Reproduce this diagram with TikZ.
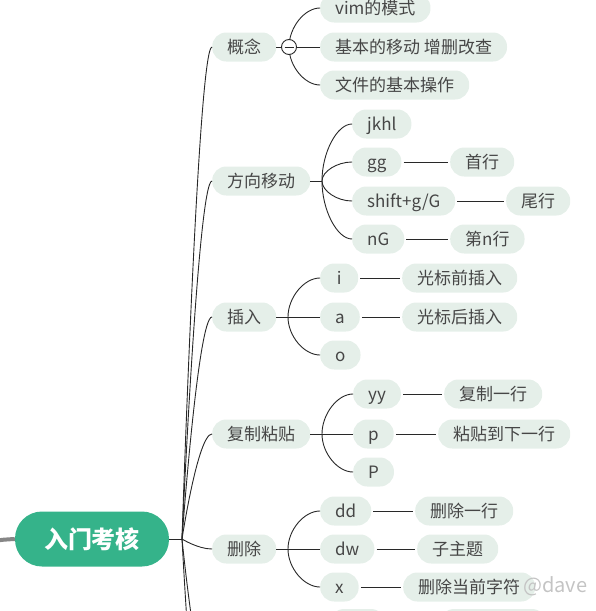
\documentclass[tikz,border=0pt]{standalone}
\usepackage{fontspec}
\setmainfont{Noto Sans CJK SC}
\usetikzlibrary{calc}
\definecolor{topic}{RGB}{229,239,233}
\definecolor{ink}{RGB}{70,70,70}
\definecolor{wirec}{RGB}{40,40,40}
\definecolor{rootgreen}{RGB}{53,179,138}
\definecolor{wmark}{RGB}{196,196,196}
\begin{document}
\begin{tikzpicture}
  [x=1pt,y=-1pt,every node/.style={anchor=west,fill=topic,text=ink,rounded corners=14pt,
   minimum height=29pt,minimum width=38pt,inner xsep=15pt,inner ysep=0pt,
   text height=13pt,text depth=0pt,font=\fontsize{17}{17}\selectfont},
   wire/.style={draw=wirec,line width=0.9pt},
   stub/.style={wire,shorten <=2pt,shorten >=2pt}]
  \useasboundingbox (0,0) rectangle (596,611);
  \clip (0,0) rectangle (596,611);
  \node (root) [anchor=center,fill=rootgreen,text=white,rounded corners=27pt,minimum height=55pt,
    inner xsep=29pt,text height=19pt,font=\fontsize{24}{24}\selectfont\bfseries] at (92,539) {入门考核};
  \node (gainian) at (212,47) {概念};
  \node (fangx) at (212,181) {方向移动};
  \node (charu) at (212,317) {插入};
  \node (fuzhi) at (212,434) {复制粘贴};
  \node (shanchu) at (212,549) {删除};
  % second level
  \node (vim) at (320,8) {vim的模式};
  \node (yidong) at (320,47) {基本的移动 增删改查};
  \node (wenjian) at (320,85) {文件的基本操作};
  \node (jkhl) at (352,124) {jkhl};
  \node (gg) at (352,162) {gg};
  \node (sg) at (352,201) {shift+g/G};
  \node (ng) at (352,239) {nG};
  \node (i) at (320,278) {i};
  \node (a) at (320,317) {a};
  \node (o) at (320,355) {o};
  \node (yy) at (353,394) {yy};
  \node (p) at (353,434) {p};
  \node (P) at (353,472) {P};
  \node (dd) at (320,511) {dd};
  \node (dw) at (320,549) {dw};
  \node (x) at (320,587) {x};
  % third level
  \node (shouh) at (450,162) {首行};
  \node (weih) at (506,201) {尾行};
  \node (dinh) at (450,239) {第n行};
  \node (qian) at (402,278) {光标前插入};
  \node (hou) at (402,317) {光标后插入};
  \node (fuz) at (444,394) {复制一行};
  \node (zhan) at (438,434) {粘贴到下一行};
  \node (shanh) at (415,511) {删除一行};
  \node (zizt) at (417,549) {子主题};
  \node (shanz) at (403,587) {删除当前字符};
  \fill[topic,rounded corners=14pt] (330,609) rectangle (385,640);
  \fill[topic,rounded corners=14pt] (440,609) rectangle (546,640);
  \node (wm) [fill=none,text=wmark,inner xsep=0pt,minimum width=0pt,
    font=\fontsize{20}{20}\selectfont] at (523,586) {@dave};

  \coordinate (up) at (-30,549);
  \draw[line width=4pt,draw=gray!95] (up) .. controls (-4,540) .. (root.west);
  \coordinate (tr) at (182,539);
  \coordinate (n6) at (212,700);
  \coordinate (n7) at (212,840);
  \draw[wire] (root.east) -- (tr);
  \foreach \b in {gainian,fangx,charu,fuzhi,shanchu}
    \draw[wire] (tr) .. controls +(0,0) and +(-14,0) .. (\b.west);
  \draw[wire] (tr) .. controls +(0,0) and +(-14,0) .. (n6);
  \draw[wire] (tr) .. controls +(0,0) and +(-14,0) .. (n7);

  \coordinate (hgn) at (289,47);
  \draw[wire] (gainian.east) -- (yidong.west);
  \foreach \ch in {vim,wenjian}
    \draw[wire] (hgn) .. controls ($(hgn)!0.5!(hgn |- \ch.west)$)
      and ($(\ch.west)!0.5!(hgn |- \ch.west)$) .. (\ch.west);
  \node (fold) [circle,anchor=center,draw=wirec,line width=0.9pt,fill=white,
    minimum size=15pt,inner sep=0pt,text height=0pt] at (hgn) {};
  \draw[wire] ([xshift=-4.5pt]fold.center) -- ([xshift=4.5pt]fold.center);

  \coordinate (hfx) at (322,181);
  \draw[wire] (fangx.east) -- (hfx);
  \foreach \ch in {jkhl,gg,sg,ng}
    \draw[wire] (hfx) .. controls ($(hfx)!0.5!(hfx |- \ch.west)$)
      and ($(\ch.west)!0.5!(hfx |- \ch.west)$) .. (\ch.west);

  \coordinate (hcr) at (288,317);
  \draw[wire] (charu.east) -- (a.west);
  \foreach \ch in {i,o}
    \draw[wire] (hcr) .. controls ($(hcr)!0.5!(hcr |- \ch.west)$)
      and ($(\ch.west)!0.5!(hcr |- \ch.west)$) .. (\ch.west);

  \coordinate (hfz) at (322,434);
  \draw[wire] (fuzhi.east) -- (p.west);
  \foreach \ch in {yy,P}
    \draw[wire] (hfz) .. controls ($(hfz)!0.5!(hfz |- \ch.west)$)
      and ($(\ch.west)!0.5!(hfz |- \ch.west)$) .. (\ch.west);

  \coordinate (hsc) at (288,549);
  \draw[wire] (shanchu.east) -- (dw.west);
  \foreach \ch in {dd,x}
    \draw[wire] (hsc) .. controls ($(hsc)!0.5!(hsc |- \ch.west)$)
      and ($(\ch.west)!0.5!(hsc |- \ch.west)$) .. (\ch.west);

  \foreach \from/\to in {gg/shouh,sg/weih,ng/dinh,i/qian,a/hou,yy/fuz,p/zhan,
    dd/shanh,dw/zizt,x/shanz}
    \draw[stub] (\from) -- (\to);
\end{tikzpicture}
\end{document}
